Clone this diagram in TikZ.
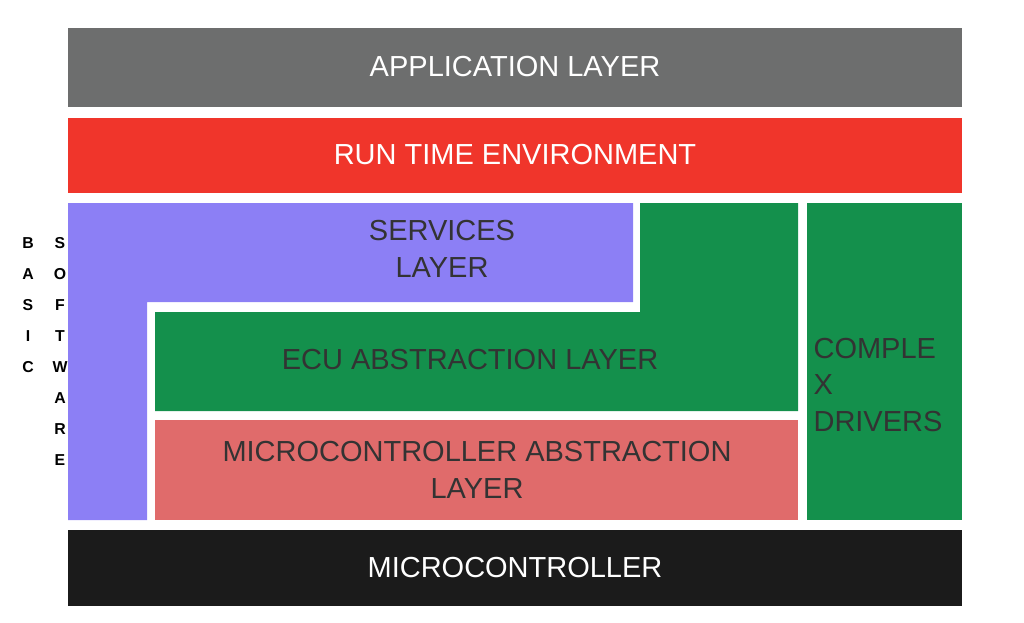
\documentclass[tikz,border=0pt]{standalone}
\usepackage{fontspec}
\setmainfont{Liberation Sans}
\definecolor{appg}{HTML}{6D6E6E}
\definecolor{rte}{HTML}{F0352B}
\definecolor{svc}{HTML}{8C7FF5}
\definecolor{ecu}{HTML}{14904C}
\definecolor{mcal}{HTML}{E06B6B}
\definecolor{mcu}{HTML}{1B1B1B}
\begin{document}
\begin{tikzpicture}[x=0.02cm,y=-0.02cm,
  lbl/.style={font=\fontsize{16.5}{21}\selectfont, align=center, inner sep=0pt},
  side/.style={font=\bfseries\fontsize{9}{10}\selectfont, inner sep=0pt}]
\useasboundingbox (0,0) rectangle (1024,622);
\fill[appg] (68,28) rectangle (962,107);
\node[lbl,white] (app) at (515,67) {APPLICATION LAYER};
\fill[rte] (68,118) rectangle (962,193);
\node[lbl,white] (rten) at (515,155) {RUN TIME ENVIRONMENT};
\fill[svc] (68,203) -- (633,203) -- (633,302) -- (147,302) -- (147,520) -- (68,520) -- cycle;
\node[lbl,black!80] (svcn) at (442,249) {SERVICES\\LAYER};
\fill[ecu] (640,203) -- (798,203) -- (798,411) -- (155,411) -- (155,312) -- (640,312) -- cycle;
\node[lbl,black!80] (ecun) at (470,360) {ECU ABSTRACTION LAYER};
\fill[ecu] (807,203) rectangle (962,520);
\node[lbl,black!80,align=left] (cdd) at (878,385) {COMPLE\\X\\DRIVERS};
\fill[mcal] (155,420) rectangle (798,520);
\node[lbl,black!80] (mcaln) at (477,470) {MICROCONTROLLER ABSTRACTION\\LAYER};
\fill[mcu] (68,530) rectangle (962,606);
\node[lbl,white] (mcun) at (515,568) {MICROCONTROLLER};
\foreach \c [count=\i] in {B,A,S,I,C}
  \node[side] (b\i) at (28,{243+(\i-1)*31}) {\c};
\foreach \c [count=\i] in {S,O,F,T,W,A,R,E}
  \node[side] (s\i) at (60,{243+(\i-1)*31}) {\c};
\end{tikzpicture}
\end{document}
